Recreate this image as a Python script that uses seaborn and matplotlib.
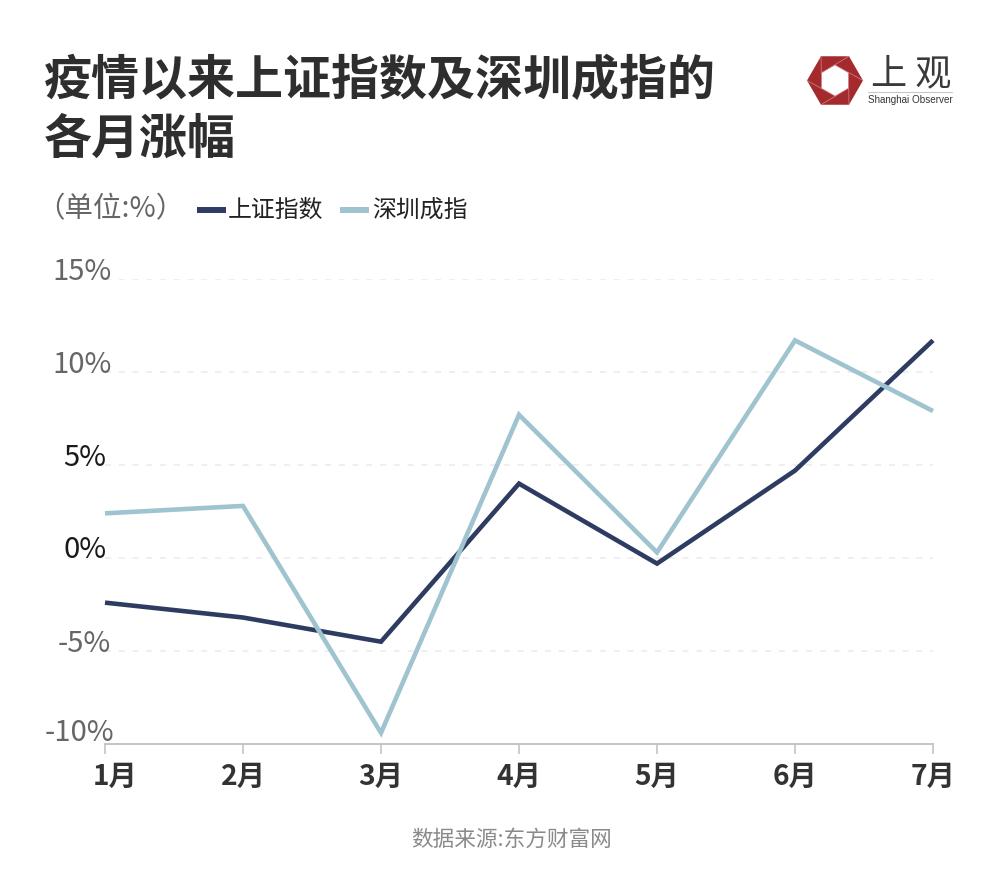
import matplotlib
matplotlib.use("Agg")
import matplotlib.pyplot as plt
from matplotlib.patches import Polygon
from matplotlib.transforms import ScaledTranslation
import numpy as np
import pandas as pd
import seaborn as sns

months = ["1月", "2月", "3月", "4月", "5月", "6月", "7月"]
shanghai = [-2.4, -3.2, -4.5, 4.0, -0.3, 4.7, 11.7]
shenzhen = [2.4, 2.8, -9.4, 7.7, 0.3, 11.7, 7.9]
yticks = [-10, -5, 0, 5, 10, 15]
ytick_labels = ["-10%", "-5%", "0%", "5%", "10%", "15%"]
ytick_colors = ["#666666", "#666666", "#1a1a1a", "#1a1a1a", "#666666", "#666666"]
ytick_dx = [1, -2, -7, -7, -2, -2]
ytick_dy = [-4, -8, -7, -8, -8, -8]
name_sh = "上证指数"
name_sz = "深圳成指"
title_lines = ["疫情以来上证指数及深圳成指的", "各月涨幅"]
unit = "\uff08单位:%\uff09"
source = "数据来源:东方财富网"

sns.set_theme(style="white")
plt.rcParams["font.family"] = ["Noto Sans CJK SC", "DejaVu Sans"]

W, H = 1000, 883
fig = plt.figure(figsize=(W / 100, H / 100), dpi=100, facecolor="white")
ax = fig.add_axes([105 / W, 1 - 744 / H, 828 / W, 465 / H])

df = pd.DataFrame({"month": np.arange(len(months)), name_sh: shanghai, name_sz: shenzhen})
long = df.melt("month", var_name="series", value_name="value")
palette = {name_sh: "#2e3c62", name_sz: "#9fc3cf"}
sns.lineplot(data=long, x="month", y="value", hue="series", palette=palette,
             linewidth=3.3, ax=ax, legend=False, zorder=3, clip_on=False,
             solid_joinstyle="miter", solid_capstyle="butt", errorbar=None)

ax.set_xlim(0, 6)
ax.set_ylim(-10, 15)
ax.set_xlabel("")
ax.set_ylabel("")
ax.set_facecolor("white")
for s in ["top", "right", "left"]:
    ax.spines[s].set_visible(False)
ax.spines["bottom"].set_color("#c4c4c4")
ax.spines["bottom"].set_linewidth(1.4)

ax.set_xticks(range(len(months)))
ax.set_xticklabels(months, fontsize=20.3, fontweight="bold", color="#333333")
ax.tick_params(axis="x", length=7, width=1.2, color="#c4c4c4", pad=6.3, bottom=True)

ax.set_yticks(yticks)
ax.set_yticklabels(ytick_labels, fontsize=21, fontweight="light", va="bottom", ha="right")
ax.tick_params(axis="y", length=0, pad=-6)
for lab, c, dx, dy in zip(ax.get_yticklabels(), ytick_colors, ytick_dx, ytick_dy):
    lab.set_color(c)
    lab.set_transform(lab.get_transform() + ScaledTranslation(dx / 100, dy / 100, fig.dpi_scale_trans))
first = ax.get_xticklabels()[0]
first.set_transform(first.get_transform() + ScaledTranslation(10 / 100, 0, fig.dpi_scale_trans))

ax.yaxis.grid(True, color="#ebebeb", linewidth=1.1, linestyle=(0, (4, 5)))
ax.xaxis.grid(False)
ax.set_axisbelow(True)
ax.get_ygridlines()[0].set_visible(False)


def px(x, y):
    return x / W, 1 - y / H


fig.text(*px(44, 81), title_lines[0], fontsize=34.55, fontweight="bold",
         color="#2e2e2e", va="center", ha="left")
fig.text(*px(44, 139), title_lines[1], fontsize=34.55, fontweight="bold",
         color="#2e2e2e", va="center", ha="left")
fig.text(*px(36, 209), unit, fontsize=20.5, fontweight="light", color="#666666",
         va="center", ha="left")

for x0, x1, c, name, tx in [(197, 226, palette[name_sh], name_sh, 228),
                            (340, 369, palette[name_sz], name_sz, 372)]:
    fig.add_artist(plt.Line2D([x0 / W, x1 / W], [1 - 210 / H] * 2, color=c, linewidth=4.3,
                              solid_capstyle="butt"))
    fig.text(*px(tx, 210), name, fontsize=17.2, color="#222222", va="center", ha="left")

fig.text(*px(512, 840), source, fontsize=15.6, color="#8a8a8a", va="center", ha="center")

# logo
cx, cy = 835, 80.5
ang = np.deg2rad(np.arange(0, 360, 60))
outer = np.array([(cx + 28 * np.cos(a), cy + 28 * np.sin(a)) for a in ang])
inner = np.array([(cx + 15.5 * np.cos(a + np.pi / 6), cy + 15.5 * np.sin(a + np.pi / 6)) for a in ang])
fig.add_artist(Polygon([px(*p) for p in outer], closed=True, transform=fig.transFigure,
                       facecolor="#a52a2d", edgecolor="none"))
for k in range(6):
    # each blade edge runs from an outer corner along one inner edge
    a = ang[k]
    p0 = (cx + 28 * np.cos(a), cy + 28 * np.sin(a))
    p1 = (cx + 15.5 * np.cos(a - np.pi / 2), cy + 15.5 * np.sin(a - np.pi / 2))
    q0, q1 = px(*p0), px(*p1)
    fig.add_artist(plt.Line2D([q0[0], q1[0]], [q0[1], q1[1]], color="#d08a8a", linewidth=0.5))
fig.add_artist(Polygon([px(*p) for p in inner], closed=True, transform=fig.transFigure,
                       facecolor="white", edgecolor="none"))
fig.text(*px(911, 74), "上 观", fontsize=26, fontweight="medium", color="#3a3a3a", va="center", ha="center")
fig.add_artist(plt.Line2D([868 / W, 952 / W], [1 - 92 / H] * 2, color="#c8c8c8", linewidth=0.8))
fig.text(*px(910, 100), "Shanghai Observer", fontsize=7.1, family="Liberation Sans",
         color="#333333", va="center", ha="center")

fig.savefig("out.png", dpi=100, facecolor="white")
